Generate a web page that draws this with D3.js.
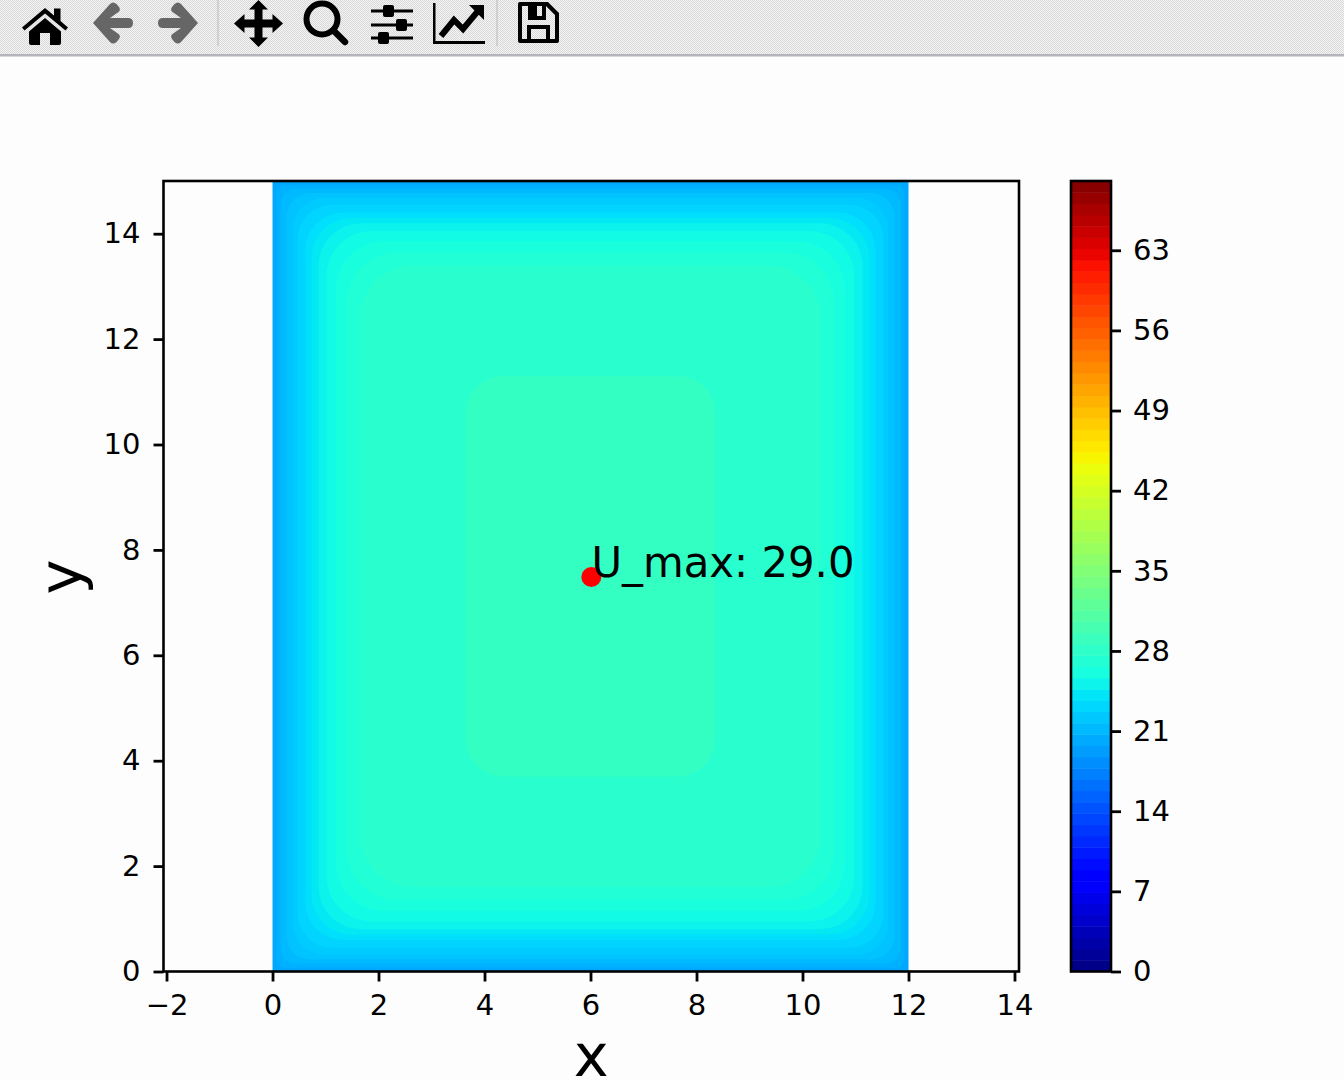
<!DOCTYPE html>
<html><head><meta charset="utf-8">
<script src="https://cdn.jsdelivr.net/npm/d3@7/dist/d3.min.js"></script>
<style>html,body{margin:0;padding:0;background:#fdfdfd;overflow:hidden}
svg{display:block}text{font-family:"DejaVu Sans";fill:#000}</style></head><body>
<svg id="c" width="1344" height="1080"></svg>
<script>
// Filled contour bands of U (outermost first)
const bandValues = [20.0,20.6,21.2,21.8,22.4,23.0,23.7,24.4,25.1,25.7,26.3,26.9,27.6,28.5];
const bandInsetX = [0,.08,.15,.26,.38,.47,.62,.74,.87,1.02,1.2,1.4,1.65,3.65];
const bandInsetY = [0,.07,.15,.23,.32,.45,.6,.7,.8,.95,1.15,1.35,1.6,3.7];
const bandCorner = [0,.15,.3,.45,.6,.65,.7,.75,.8,.85,.9,.95,1.0,.7];
const fieldX = [0, 12], fieldY = [0, 15];
const maxPoint = {x: 6, y: 7.5, label: "U_max: 29.0"};
const xTicks = [-2, 0, 2, 4, 6, 8, 10, 12, 14];
const yTicks = [0, 2, 4, 6, 8, 10, 12, 14];
const cbTicks = [0, 7, 14, 21, 28, 35, 42, 49, 56, 63];
const cbMax = 69.05, cbLevels = 70;
// jet colormap nodes
const jetR = [[0,0],[.35,0],[.66,1],[.89,1],[1,.5]];
const jetG = [[0,0],[.125,0],[.375,1],[.64,1],[.91,0],[1,0]];
const jetB = [[0,.5],[.11,1],[.34,1],[.65,0],[1,0]];

const chan = n => d3.scaleLinear().domain(n.map(d=>d[0])).range(n.map(d=>d[1])).clamp(true);
const cr = chan(jetR), cg = chan(jetG), cb = chan(jetB);
const jet = t => d3.rgb(cr(t)*255, cg(t)*255, cb(t)*255).formatHex();

const svg = d3.select("#c");
const P = {l:163.5, r:1019, t:181, b:971.5};
const x = d3.scaleLinear().domain([-2.057, 14.085]).range([P.l, P.r]);
const y = d3.scaleLinear().domain([0, 15]).range([P.b, P.t]);

// toolbar chrome
const defs = svg.append("defs");
const pat = defs.append("pattern").attr("id","dith").attr("width",2).attr("height",2).attr("patternUnits","userSpaceOnUse");
pat.append("rect").attr("width",2).attr("height",2).attr("fill","#f4f4f4");
pat.append("rect").attr("width",1).attr("height",1).attr("fill","#d8d8d8");
pat.append("rect").attr("x",1).attr("y",1).attr("width",1).attr("height",1).attr("fill","#d8d8d8");
const tb = svg.append("g").attr("class","toolbar");
tb.append("rect").attr("width",1344).attr("height",54).attr("fill","url(#dith)");
tb.append("rect").attr("y",54).attr("width",1344).attr("height",2.5).attr("fill","#b4b4bc");
[218,497].forEach(v=>tb.append("rect").attr("x",v-1).attr("y",0).attr("width",2).attr("height",46).attr("fill","#d0d0d0"));
tb.append("path").attr("fill","#000").attr("d","M45 8 L54 15.5 V8.5 H60.5 V21 L68 27.5 L65.5 30.5 L45 13.5 L24.5 30.5 L22 27.5 Z M45 18 L61 31.5 V43 Q61 45 59 45 H50 V33 H40 V45 H31 Q29 45 29 43 V31.5 Z");
const arrow = "M-20 0 L-3 -19 Q0 -22 3.5 -19 L6 -16 Q8 -13 5.5 -11 L-3 -5 H15 Q20 -5 20 0 Q20 5 15 5 H-3 L5.5 11 Q8 13 6 16 L3.5 19 Q0 22 -3 19 Z";
tb.append("path").attr("fill","#666").attr("transform","translate(113,23)").attr("d",arrow);
tb.append("path").attr("fill","#666").attr("transform","translate(178,23) scale(-1,1)").attr("d",arrow);
tb.append("path").attr("fill","#000").attr("d","M258.5 0 L268 9.5 H262.5 V19.5 H272.5 V14 L283 23.5 L272.5 33 V27.5 H262.5 V37.5 H268 L258.5 47 L249 37.5 H254.5 V27.5 H244.5 V33 L234 23.5 L244.5 14 V19.5 H254.5 V9.5 H249 Z");
tb.append("circle").attr("cx",322).attr("cy",19).attr("r",15.5).attr("fill","none").attr("stroke","#000").attr("stroke-width",6);
tb.append("line").attr("x1",334).attr("y1",31).attr("x2",345).attr("y2",42).attr("stroke","#000").attr("stroke-width",6.5).attr("stroke-linecap","round");
[[11,389],[25,402],[38,384]].forEach(([yy,k])=>{
  tb.append("rect").attr("x",371).attr("y",yy-1.5).attr("width",42).attr("height",3).attr("fill","#000");
  tb.append("rect").attr("x",k-6).attr("y",yy-6).attr("width",11).attr("height",12).attr("rx",2).attr("fill","#000");
});
tb.append("path").attr("fill","#000").attr("d","M433 3 H435.5 V41 H485 V44 H433 Z");
tb.append("path").attr("fill","none").attr("stroke","#000").attr("stroke-width",6).attr("d","M441 36 L454 20 L463 29 L478 11");
tb.append("path").attr("fill","#000").attr("d","M469 5 H484 V20 Z");
tb.append("path").attr("fill","#000").attr("fill-rule","evenodd").attr("d","M520 2 H548 L559 13 V41 Q559 43 557 43 H520 Q518 43 518 41 V4 Q518 2 520 2 Z M522 6 V39 H527 V25 H550 V39 H555 V15 L546 6 V20 H528 V6 Z M531 29 V39 H546 V29 Z M537 6 V16 H542 V6 Z");

// field
const roundedBand = (i) => {
  const dx = bandInsetX[i], dy = bandInsetY[i];
  return {x0:x(fieldX[0]+dx), x1:x(fieldX[1]-dx), y0:y(fieldY[1]-dy), y1:y(fieldY[0]+dy), r:x(bandCorner[i])-x(0)};
};
svg.append("g").selectAll("rect").data(bandValues).join("rect")
  .each(function(d,i){ const b = roundedBand(i);
    d3.select(this).attr("x",b.x0).attr("y",b.y0).attr("width",b.x1-b.x0).attr("height",b.y1-b.y0).attr("rx",b.r).attr("ry",b.r); })
  .attr("fill", d => jet(d/cbMax));

// max marker + label
svg.append("circle").attr("cx",x(maxPoint.x)+0.8).attr("cy",y(maxPoint.y)+0.8).attr("r",10).attr("fill","#ff0000");
svg.append("text").attr("x",x(maxPoint.x)+1).attr("y",y(maxPoint.y)+1).attr("font-size",41.8).text(maxPoint.label);

// axes
function styleAxis(g, size){
  g.selectAll("path.domain").remove();
  g.selectAll(".tick line").attr("stroke","#000").attr("stroke-width",2.8);
  g.selectAll(".tick text").attr("font-family","DejaVu Sans").attr("font-size",size).attr("fill","#000");
}
const fmt = d => String(d).replace("-","\u2212");
svg.append("g").attr("transform",`translate(0,${P.b})`)
  .call(d3.axisBottom(x).tickValues(xTicks).tickFormat(fmt).tickSize(10).tickPadding(13))
  .call(g=>styleAxis(g,29));
svg.append("g").attr("transform",`translate(${P.l},0)`)
  .call(d3.axisLeft(y).tickValues(yTicks).tickFormat(fmt).tickSize(10).tickPadding(13))
  .call(g=>styleAxis(g,29));
svg.append("rect").attr("x",P.l).attr("y",P.t).attr("width",P.r-P.l).attr("height",P.b-P.t).attr("fill","none").attr("stroke","#000").attr("stroke-width",2.6);
svg.append("text").attr("x",(P.l+P.r)/2).attr("y",1076).attr("text-anchor","middle").attr("font-size",59).text("x");
svg.append("text").attr("transform","translate(81,577) rotate(-90)").attr("text-anchor","middle").attr("font-size",59).text("y");

// colorbar
const C = {l:1071, r:1111};
const yc = d3.scaleLinear().domain([0,cbMax]).range([P.b,P.t]);
const levels = d3.range(cbLevels);
svg.append("g").selectAll("rect").data(levels).join("rect")
  .attr("x",C.l).attr("width",C.r-C.l)
  .attr("y",d=>yc((d+1)*cbMax/cbLevels)).attr("height",d=>yc(d*cbMax/cbLevels)-yc((d+1)*cbMax/cbLevels)+0.5)
  .attr("fill",d=>jet((d+.5)/cbLevels));
svg.append("g").attr("transform",`translate(${C.r},0)`)
  .call(d3.axisRight(yc).tickValues(cbTicks).tickSize(10).tickPadding(12))
  .call(g=>styleAxis(g,29));
svg.append("rect").attr("x",C.l).attr("y",P.t).attr("width",C.r-C.l).attr("height",P.b-P.t).attr("fill","none").attr("stroke","#000").attr("stroke-width",2.6);
</script></body></html>
